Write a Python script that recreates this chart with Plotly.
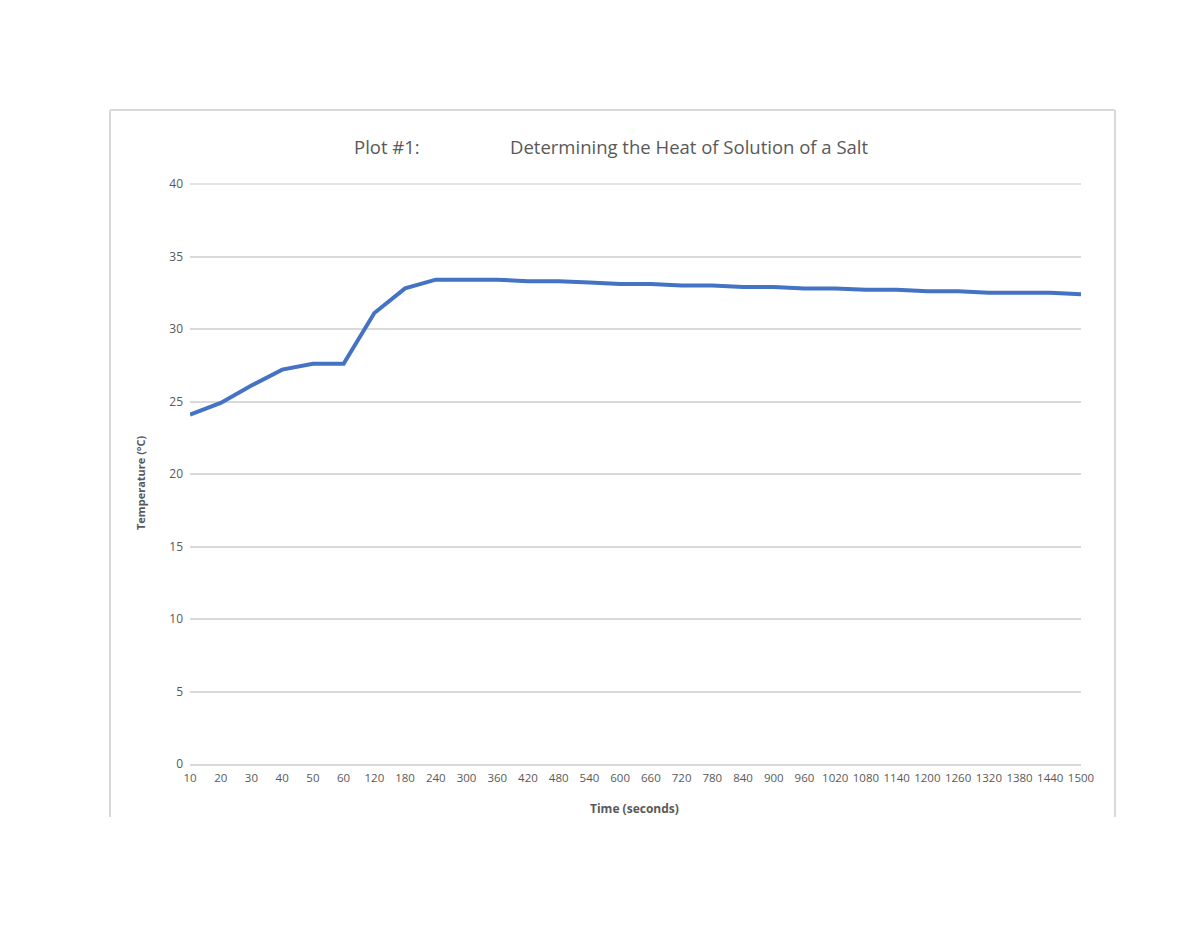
import plotly.graph_objects as go

time_labels = ["10", "20", "30", "40", "50", "60", "120", "180", "240", "300",
               "360", "420", "480", "540", "600", "660", "720", "780", "840", "900",
               "960", "1020", "1080", "1140", "1200", "1260", "1320", "1380", "1440", "1500"]
temperature = [24.1, 24.9, 26.1, 27.2, 27.6, 27.6, 31.1, 32.8, 33.4, 33.4,
               33.4, 33.3, 33.3, 33.2, 33.1, 33.1, 33.0, 33.0, 32.9, 32.9,
               32.8, 32.8, 32.7, 32.7, 32.6, 32.6, 32.5, 32.5, 32.5, 32.4]
y_ticks = [0, 5, 10, 15, 20, 25, 30, 35, 40]

OFF = 8  # page body margin
W, H = 1200 - 2 * OFF, 927 - 2 * OFF
L, R, T, B = 190, 1081, 184, 764
pw, ph = R - L, B - T

def px(x):
    return (x - L) / pw

def py(y):
    return (B - y) / ph

fig = go.Figure()
fig.add_trace(go.Scatter(
    x=time_labels, y=temperature, mode="lines",
    line=dict(color="#4472C4", width=4, shape="linear"),
    showlegend=False, hoverinfo="x+y",
))

font_family = "Open Sans, Liberation Sans, sans-serif"
grid_col = "#d9d9d9"

fig.update_layout(
    width=W, height=H,
    margin=dict(l=L - OFF, r=(1200 - OFF) - R, t=T - OFF, b=(927 - OFF) - B, pad=0),
    paper_bgcolor="white", plot_bgcolor="white",
    xaxis=dict(
        type="category", range=[0, len(time_labels) - 1],
        showgrid=False, showline=True, linecolor=grid_col, linewidth=1.5,
        ticks="", tickfont=dict(family=font_family, size=11.5, color="#595959"),
        ticklabelstandoff=2, zeroline=False, fixedrange=True,
    ),
    yaxis=dict(
        range=[0, y_ticks[-1]], tickvals=y_ticks, ticktext=[str(v) for v in y_ticks],
        showgrid=True, gridcolor=grid_col, gridwidth=1.5,
        ticks="", showline=False, zeroline=False,
        tickfont=dict(family=font_family, size=12, color="#595959"),
        ticklabelstandoff=6, fixedrange=True,
    ),
    shapes=[
        # top gridline (at the top edge of the y range)
        dict(type="line", xref="paper", yref="paper", layer="below",
             x0=0, x1=1, y0=1, y1=1,
             line=dict(color=grid_col, width=1.5)),
        # chart-area border (left, top, right)
        dict(type="line", xref="paper", yref="paper",
             x0=px(110), x1=px(110), y0=py(817), y1=py(110),
             line=dict(color=grid_col, width=2)),
        dict(type="line", xref="paper", yref="paper",
             x0=px(110), x1=px(1115), y0=py(110), y1=py(110),
             line=dict(color=grid_col, width=2)),
        dict(type="line", xref="paper", yref="paper",
             x0=px(1115), x1=px(1115), y0=py(110), y1=py(817),
             line=dict(color=grid_col, width=2)),
    ],
    annotations=[
        dict(text="Plot #1:", xref="paper", yref="paper",
             x=px(352), y=py(147), xanchor="left", yanchor="middle",
             showarrow=False, font=dict(family=font_family, size=18.5, color="#595959")),
        dict(text="Determining the Heat of Solution of a Salt", xref="paper", yref="paper",
             x=px(508), y=py(147), xanchor="left", yanchor="middle",
             showarrow=False, font=dict(family=font_family, size=18.5, color="#595959")),
        dict(text="<b>Temperature (°C)</b>", xref="paper", yref="paper",
             x=px(140), y=py(483), xanchor="center", yanchor="middle", textangle=-90,
             showarrow=False, font=dict(family=font_family, size=11, color="#595959")),
        dict(text="<b>Time (seconds)</b>", xref="paper", yref="paper",
             x=px(634), y=py(808), xanchor="center", yanchor="middle",
             showarrow=False, font=dict(family=font_family, size=12, color="#595959")),
    ],
)

fig.write_html("out.html")
